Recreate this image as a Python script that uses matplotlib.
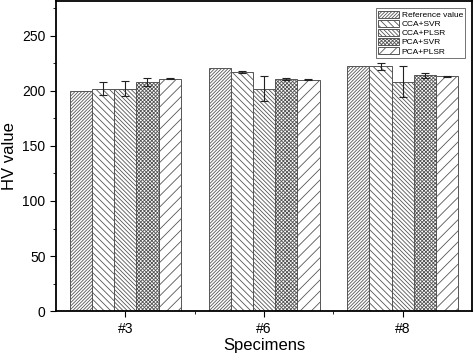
import numpy as np
import matplotlib.pyplot as plt
from matplotlib.ticker import MultipleLocator

plt.rcParams['font.family'] = ['Liberation Sans', 'DejaVu Sans']
plt.rcParams['hatch.linewidth'] = 0.6
plt.rcParams['hatch.color'] = '#555555'

specimens = ["#3", "#6", "#8"]
methods = ["Reference value", "CCA+SVR", "CCA+PLSR", "PCA+SVR", "PCA+PLSR"]
values = [
    [200, 221, 222],
    [202, 217, 222],
    [202, 202, 208],
    [208, 211, 214],
    [211, 210, 213],
]
errors = [
    [0, 0, 0],
    [6, 1, 3],
    [7, 11, 14],
    [4, 1, 2],
    [0.5, 0.5, 0.5],
]
hatches = ["//////////", "\\\\\\\\\\", "\\\\\\\\\\\\\\\\", "xxxxxxxxx", "///"]

fig = plt.figure(figsize=(4.74, 3.61), dpi=100)
ax = fig.add_axes([0.118, 0.138, 0.878, 0.858])

x = np.arange(1, len(specimens) + 1)
w = 0.16
for i, name in enumerate(methods):
    pos = x + (i - 2) * w
    ax.bar(pos, values[i], width=w, color="white", edgecolor="#555555",
           linewidth=0.7, hatch=hatches[i], label=name)
    if i > 0:
        ax.errorbar(pos, values[i], yerr=errors[i], fmt="none", ecolor="#222222",
                    elinewidth=0.8, capsize=3, capthick=0.8)

ax.set_xlim(0.5, 3.5)
ax.set_ylim(0, 281)
ax.set_xticks(x)
ax.set_xticklabels(specimens, fontsize=10)
ax.xaxis.set_minor_locator(plt.FixedLocator([1.5, 2.5]))
ax.yaxis.set_major_locator(MultipleLocator(50))
ax.yaxis.set_minor_locator(MultipleLocator(25))
ax.tick_params(axis="both", which="major", labelsize=10, length=4)
ax.tick_params(axis="both", which="minor", length=2.5)
ax.set_xlabel("Specimens", fontsize=12, labelpad=2)
ax.set_ylabel("HV value", fontsize=12)
for s in ax.spines.values():
    s.set_linewidth(1.3)

ax.legend(loc="upper right", fontsize=6, frameon=True, fancybox=False,
          edgecolor="#333333", handlelength=2.5, handleheight=0.9,
          labelspacing=0.1, borderpad=0.3, handletextpad=0.3,
          borderaxespad=0.8).get_frame().set_linewidth(0.6)

fig.savefig("out.png", dpi=100)
